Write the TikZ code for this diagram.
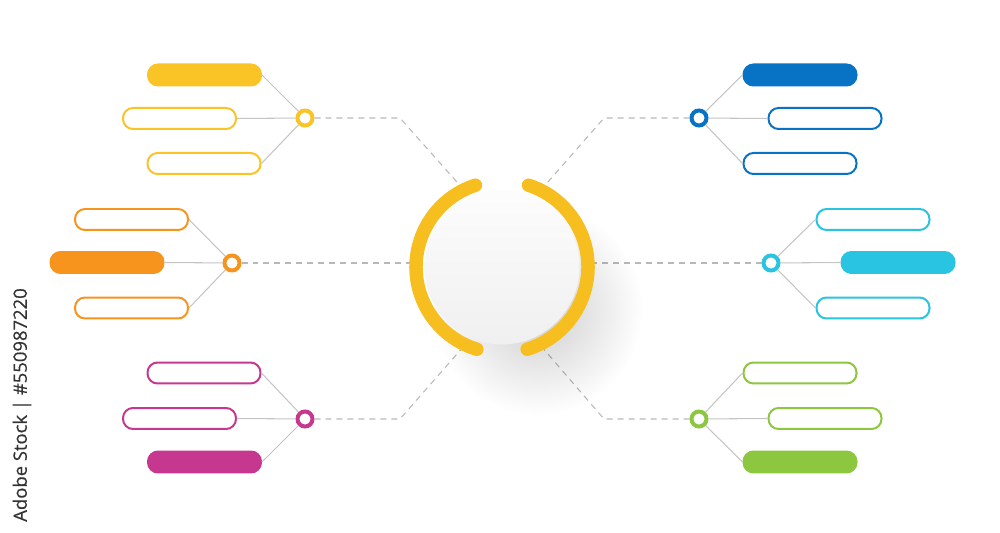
\documentclass[tikz,border=0pt]{standalone}
\usepackage{fontspec}
\newfontfamily\stockfont{Open Sans}[FakeBold=0.5]
\usepackage{tikz}
\usepackage{xcolor}
\usetikzlibrary{fadings}
\definecolor{hubyellow}{HTML}{FAC326}
\definecolor{hubarc}{HTML}{F6BE1F}
\definecolor{huborange}{HTML}{F7941E}
\definecolor{hubmagenta}{HTML}{C6388F}
\definecolor{hubblue}{HTML}{0872C4}
\definecolor{hubcyan}{HTML}{29C4E2}
\definecolor{hubgreen}{HTML}{8DC63F}
\definecolor{twig}{HTML}{C4C4C4}
\definecolor{guidegray}{HTML}{B8B8B8}
\tikzfading[name=softdisc, inner color=transparent!0, outer color=transparent!100]

\begin{document}
\begin{tikzpicture}[x=0.02cm,y=-0.02cm,
  pill/.style={rectangle, rounded corners=0.2cm, minimum width=2.26cm, minimum height=0.42cm, line width=0.04cm, inner sep=0pt, fill=white},
  hub/.style={circle, draw=#1, fill=white, line width=0.08cm, minimum size=0.3cm, inner sep=0pt},
  twigline/.style={twig, line width=0.6pt},
  guide/.style={guidegray, line width=0.6pt, dash pattern=on 0.12cm off 0.1cm},
  arcline/.style={hubarc, line width=0.27cm, line cap=round}]
\useasboundingbox (0,0) rectangle (1000,533);

% hubs
\node[hub=hubyellow] (hy) at (305,118) {};
\node[hub=huborange] (ho) at (232,263) {};
\node[hub=hubmagenta] (hm) at (305,419) {};
\node[hub=hubblue] (hb) at (699,118) {};
\node[hub=hubcyan] (hc) at (771,263) {};
\node[hub=hubgreen] (hg) at (699,419) {};

% pills, left side
\node[pill, draw=hubyellow, fill=hubyellow] (y1) at (204.5,75) {};
\node[pill, draw=hubyellow] (y2) at (179.5,118.5) {};
\node[pill, draw=hubyellow] (y3) at (204,163.5) {};
\node[pill, draw=huborange] (o1) at (131.5,219.5) {};
\node[pill, draw=huborange, fill=huborange] (o2) at (107,262.5) {};
\node[pill, draw=huborange] (o3) at (131.5,308) {};
\node[pill, draw=hubmagenta] (m1) at (204,373) {};
\node[pill, draw=hubmagenta] (m2) at (179.5,418.5) {};
\node[pill, draw=hubmagenta, fill=hubmagenta] (m3) at (204.5,462) {};

% pills, right side
\node[pill, draw=hubblue, fill=hubblue] (b1) at (800,75) {};
\node[pill, draw=hubblue] (b2) at (825,118.5) {};
\node[pill, draw=hubblue] (b3) at (800,163.5) {};
\node[pill, draw=hubcyan] (c1) at (873,219.5) {};
\node[pill, draw=hubcyan, fill=hubcyan] (c2) at (898,262.5) {};
\node[pill, draw=hubcyan] (c3) at (873,308) {};
\node[pill, draw=hubgreen] (g1) at (800,373) {};
\node[pill, draw=hubgreen] (g2) at (825,418.5) {};
\node[pill, draw=hubgreen, fill=hubgreen] (g3) at (800,462) {};

% twigs
\draw[twigline] (hy)--(y1.east) (hy)--(y2.east) (hy)--(y3.east);
\draw[twigline] (ho)--(o1.east) (ho)--(o2.east) (ho)--(o3.east);
\draw[twigline] (hm)--(m1.east) (hm)--(m2.east) (hm)--(m3.east);
\draw[twigline] (hb)--(b1.west) (hb)--(b2.west) (hb)--(b3.west);
\draw[twigline] (hc)--(c1.west) (hc)--(c2.west) (hc)--(c3.west);
\draw[twigline] (hg)--(g1.west) (hg)--(g2.west) (hg)--(g3.west);

% dashed guides to the centre
\coordinate (ky) at (400,118);
\coordinate (ey) at (464,190);
\coordinate (eo) at (412,263);
\coordinate (km) at (400,419);
\coordinate (em) at (464,346);
\coordinate (kb) at (604,118);
\coordinate (eb) at (541,190);
\coordinate (ec) at (593,263);
\coordinate (kg) at (604,419);
\coordinate (eg) at (541,346);
\draw[guide] (hy)--(ky)--(ey);
\draw[guide] (ho)--(eo);
\draw[guide] (hm)--(km)--(em);
\draw[guide] (hb)--(kb)--(eb);
\draw[guide] (hc)--(ec);
\draw[guide] (hg)--(kg)--(eg);

% centre disc
\fill[black, opacity=0.2, path fading=softdisc] (538,310) circle (105);
\node[circle, top color=white!99!black, bottom color=white!94!black, minimum size=3.1cm, inner sep=0pt] (core) at (502,267) {};
\draw[arcline] (core.center) ++(107:86) arc (107:252:86);
\draw[arcline] (core.center) ++(73:86) arc (73:-72:86);

\node[rotate=90, text=black!80, font=\stockfont\fontsize{10.5pt}{12pt}\selectfont] (stock) at (22,405) {Adobe Stock | \#550987220};
\end{tikzpicture}
\end{document}
